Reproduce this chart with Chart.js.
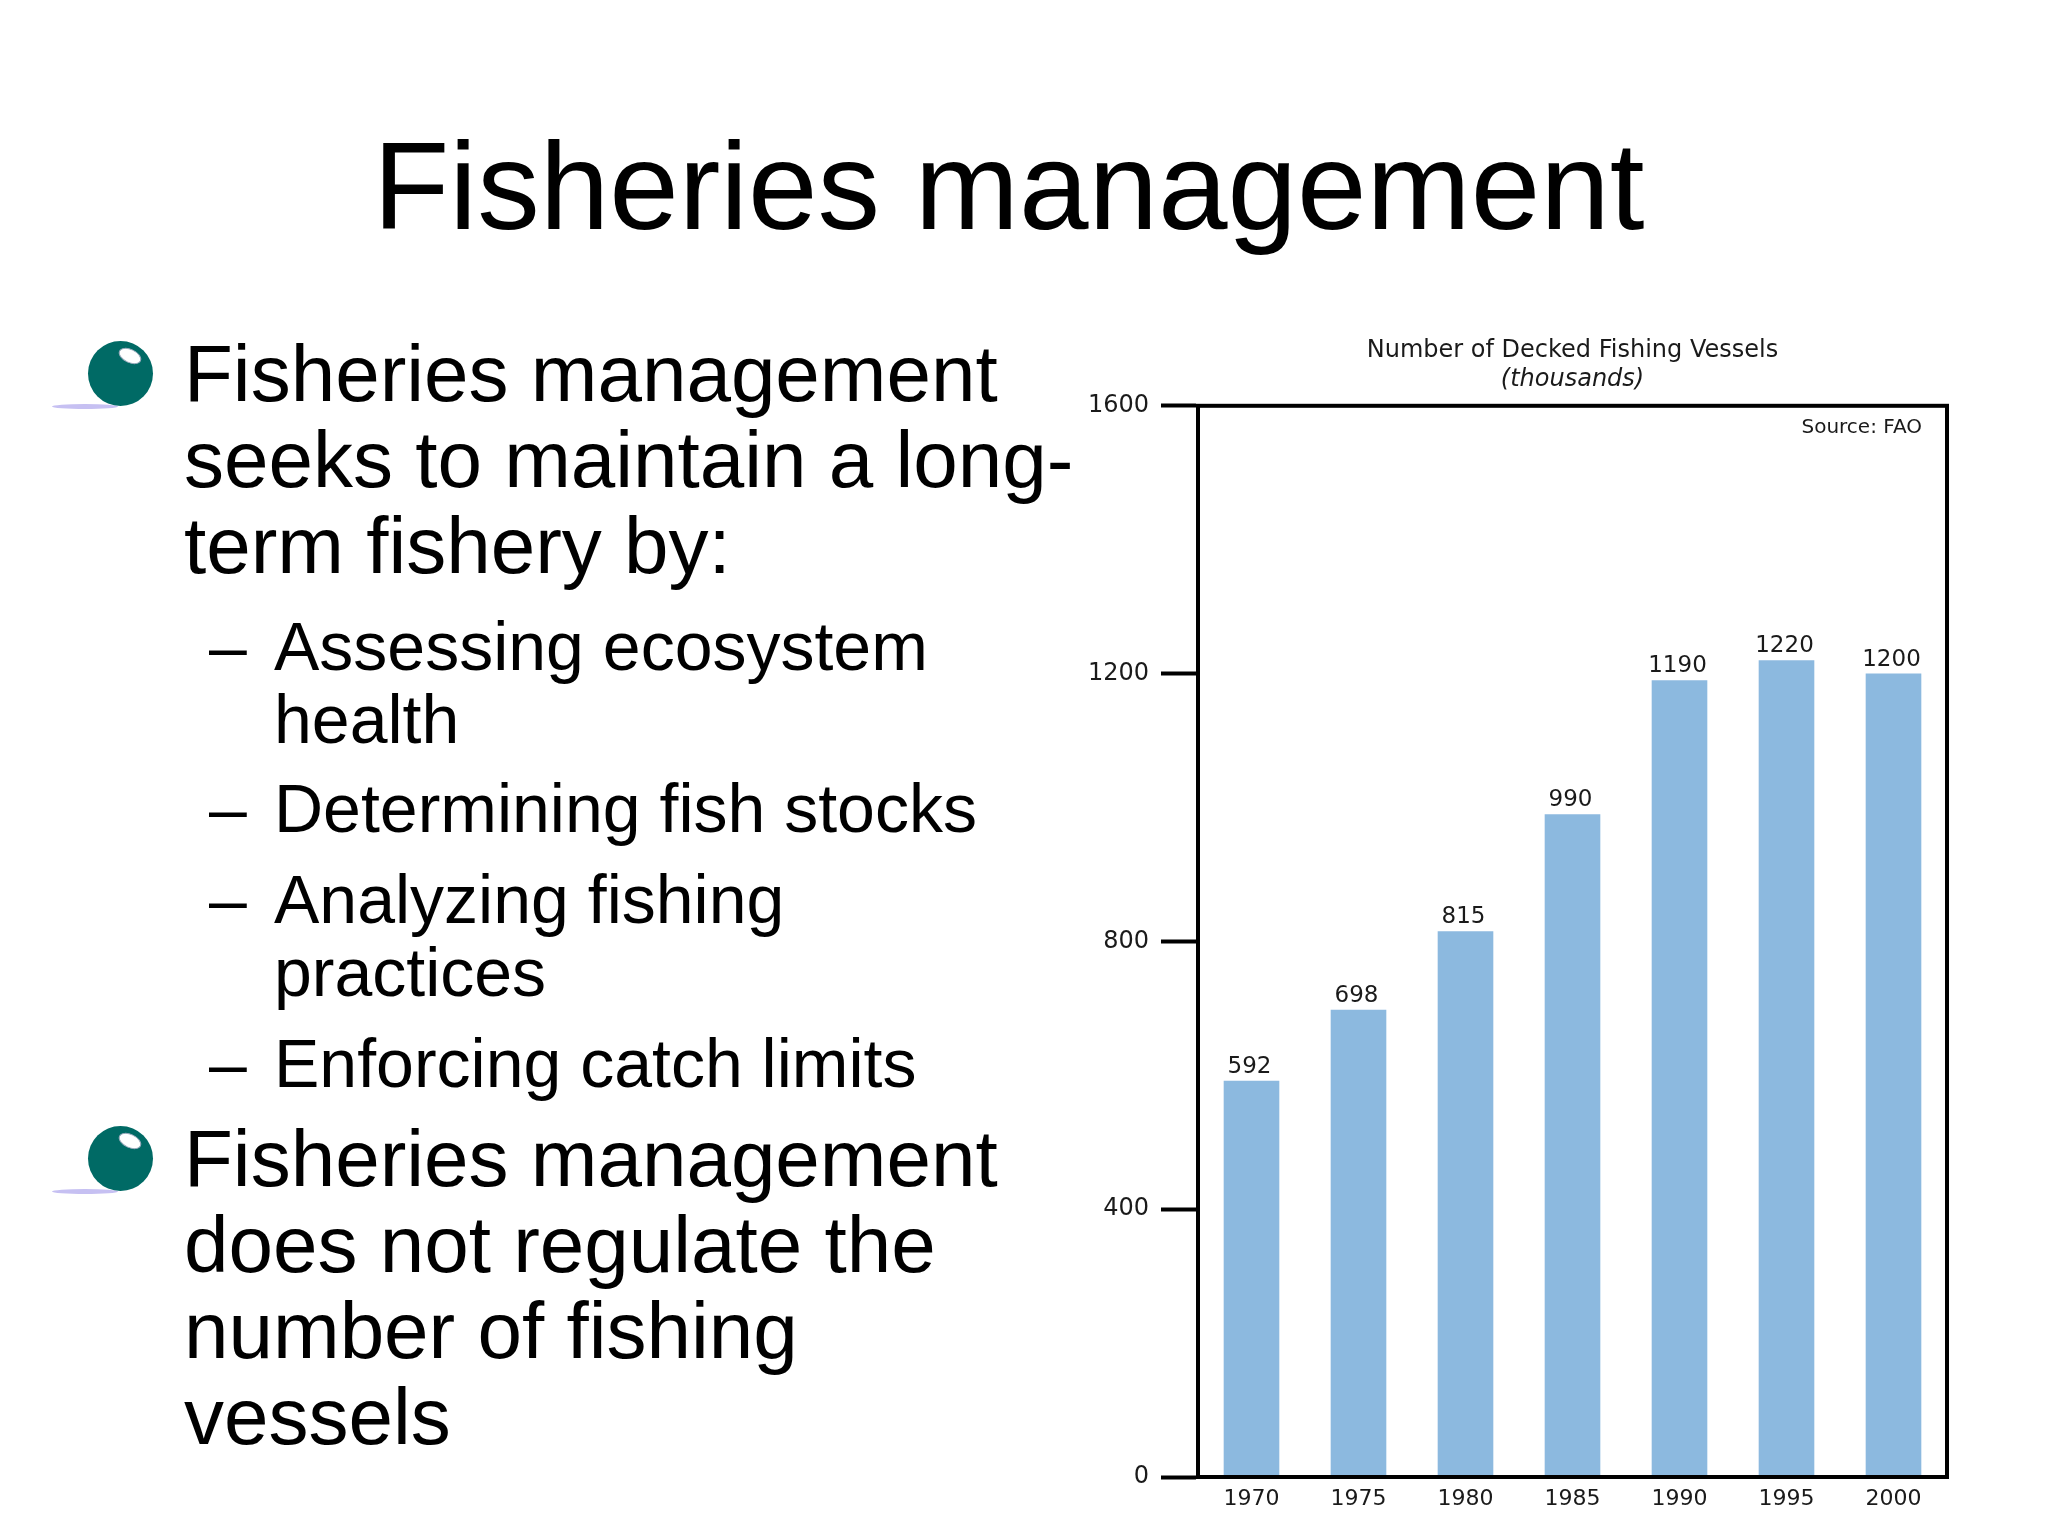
<!DOCTYPE html>
<html>
<head>
<meta charset="utf-8">
<script src="https://cdn.jsdelivr.net/npm/chart.js@4.4.0/dist/chart.umd.min.js"></script>
<style>
html,body{margin:0;padding:0;background:#fff;}
#slide{position:relative;width:2048px;height:1536px;overflow:hidden;background:#fff;font-family:"Liberation Sans",Arial,sans-serif;color:#000;}
.title{position:absolute;left:373px;top:123px;font-size:125px;line-height:125px;white-space:nowrap;}
.b1{position:absolute;left:184px;font-size:80px;line-height:86px;white-space:nowrap;}
.sub{position:absolute;left:274px;font-size:68px;line-height:72.5px;white-space:nowrap;}
.dash{position:absolute;left:-65px;top:0;}
.shadow{position:absolute;width:66px;height:5px;border-radius:50%;background:#c6c0f2;}
.bullet{position:absolute;width:65px;height:65px;border-radius:50%;background:#006a65;}
.hl{position:absolute;left:30px;top:8px;width:22px;height:12px;border-radius:50%;background:#fff;border:1px solid #9ab;transform:rotate(25deg);}
#chartBox{position:absolute;left:1000px;top:320px;width:1000px;height:1215px;}
</style>
</head>
<body>
<div id="slide">
  <div class="title">Fisheries management</div>

  <div class="shadow" style="left:52px;top:404px;"></div>
  <div class="bullet" style="left:88px;top:341px;"><div class="hl"></div></div>
  <div class="b1" style="top:331px;">Fisheries management<br>seeks to maintain a long-<br>term fishery by:</div>

  <div class="sub" style="top:610px;"><span class="dash">–</span>Assessing ecosystem<br>health</div>
  <div class="sub" style="top:772px;"><span class="dash">–</span>Determining fish stocks</div>
  <div class="sub" style="top:863px;"><span class="dash">–</span>Analyzing fishing<br>practices</div>
  <div class="sub" style="top:1027px;"><span class="dash">–</span>Enforcing catch limits</div>

  <div class="shadow" style="left:52px;top:1189px;"></div>
  <div class="bullet" style="left:88px;top:1126px;"><div class="hl"></div></div>
  <div class="b1" style="top:1116px;">Fisheries management<br>does not regulate the<br>number of fishing<br>vessels</div>

  <div id="chartBox"><canvas id="c" width="1000" height="1215"></canvas></div>
</div>
<script>
const years = ['1970', '1975', '1980', '1985', '1990', '1995', '2000'];
const vessels = [592, 698, 815, 990, 1190, 1220, 1200];
const yTicks = [0, 400, 800, 1200, 1600];
const chartTitle = 'Number of Decked Fishing Vessels';
const chartSubtitle = '(thousands)';
const sourceNote = 'Source: FAO';

const FONT = '"DejaVu Sans", "Liberation Sans", sans-serif';
const INK = '#1a1a1a';

const barLabels = {
  id: 'barLabels',
  afterDatasetsDraw(chart) {
    const ctx = chart.ctx;
    const meta = chart.getDatasetMeta(0);
    ctx.save();
    ctx.font = '23px ' + FONT;
    ctx.fillStyle = INK;
    ctx.textAlign = 'center';
    ctx.textBaseline = 'alphabetic';
    meta.data.forEach((bar, i) => {
      ctx.fillText(String(vessels[i]), bar.x - 2, bar.y - 8);
    });
    ctx.restore();
  }
};

const frame = {
  id: 'frame',
  afterDraw(chart) {
    const a = chart.chartArea;
    const ctx = chart.ctx;
    ctx.save();
    ctx.strokeStyle = '#000';
    ctx.lineWidth = 4;
    ctx.strokeRect(a.left, a.top, a.right - a.left, a.bottom - a.top);
    ctx.font = '20px ' + FONT;
    ctx.fillStyle = INK;
    ctx.textAlign = 'right';
    ctx.textBaseline = 'middle';
    ctx.fillText(sourceNote, a.right - 25, a.top + 22);
    ctx.restore();
  }
};

new Chart(document.getElementById('c'), {
  type: 'bar',
  data: {
    labels: years,
    datasets: [{
      data: vessels,
      backgroundColor: '#8cb9df',
      borderWidth: 0,
      categoryPercentage: 1,
      barPercentage: 0.52
    }]
  },
  plugins: [barLabels, frame],
  options: {
    responsive: false,
    animation: false,
    devicePixelRatio: 1,
    layout: { padding: { left: 0, right: 53, top: 0, bottom: 0 } },
    plugins: {
      legend: { display: false },
      tooltip: { enabled: false },
      title: {
        display: true, fullSize: false, text: chartTitle, color: INK,
        font: { family: FONT, size: 24, weight: 'normal', lineHeight: 1.1 },
        padding: { top: 18, bottom: 2 }
      },
      subtitle: {
        display: true, fullSize: false, text: chartSubtitle, color: INK,
        font: { family: FONT, size: 24, style: 'italic', weight: 'normal', lineHeight: 1.1 },
        padding: { top: 0, bottom: 13 }
      }
    },
    scales: {
      x: {
        grid: { display: false, drawTicks: false },
        border: { display: true, color: '#000', width: 4 },
        ticks: { color: INK, font: { family: FONT, size: 22 }, padding: 9 },
        afterFit(s) { s.height = 58; }
      },
      y: {
        min: 0, max: 1600,
        afterBuildTicks(s) { s.ticks = yTicks.map(v => ({ value: v })); },
        grid: { display: true, drawOnChartArea: false, drawTicks: true, tickLength: 37, tickWidth: 4, color: '#000' },
        border: { display: true, color: '#000', width: 4 },
        ticks: { color: INK, font: { family: FONT, size: 24 }, padding: 12, callback: v => String(v) },
        afterFit(s) { s.width = 198; }
      }
    }
  }
});
</script>
</body>
</html>
